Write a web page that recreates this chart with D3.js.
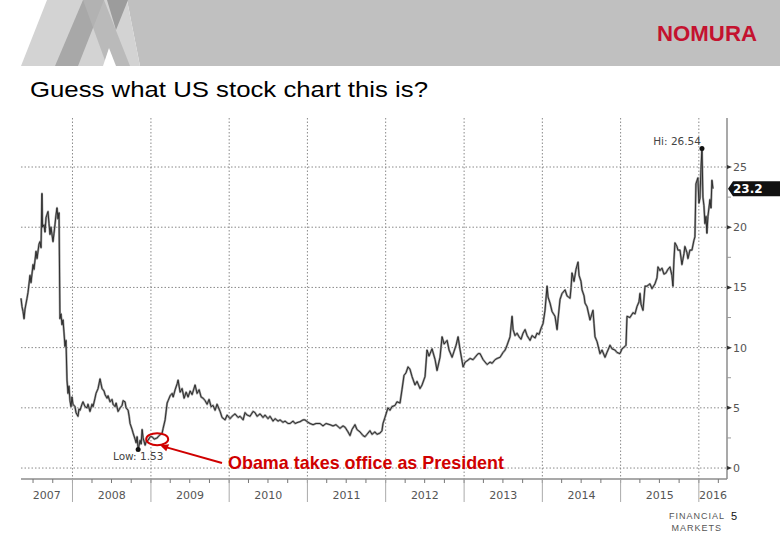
<!DOCTYPE html>
<meta charset="utf-8">
<title>Guess what US stock chart this is?</title>
<style>
body { margin:0; background:#fff; }
svg { display:block; font-family:"DejaVu Sans", Verdana, sans-serif; }
.grid line { stroke:#8a8a8a; stroke-width:1; stroke-dasharray:1.5,2; }
.ylab { font-size:11px; fill:#555; }
.xlab { font-size:11px; fill:#555; text-anchor:middle; }
</style>
<body>
<div id="container"></div>
<script src="https://d3js.org/d3.v7.min.js"></script>
<script>
var width = 780, height = 540;

// trade dates as decimal years
var dates = [
  2007.342,2007.355,2007.368,2007.381,2007.393,2007.419,2007.432,2007.457,2007.470,2007.496,
  2007.508,2007.534,2007.547,2007.572,2007.585,2007.598,2007.610,2007.617,2007.636,2007.649,
  2007.662,2007.687,2007.700,2007.713,2007.725,2007.751,2007.764,2007.776,2007.789,2007.802,
  2007.815,2007.828,2007.840,2007.853,2007.866,2007.879,2007.891,2007.904,2007.917,2007.930,
  2007.943,2007.955,2007.968,2007.981,2007.994,2008.006,2008.032,2008.045,2008.070,2008.083,
  2008.096,2008.121,2008.134,2008.160,2008.185,2008.198,2008.223,2008.249,2008.262,2008.287,
  2008.300,2008.326,2008.351,2008.364,2008.377,2008.402,2008.415,2008.441,2008.453,2008.479,
  2008.504,2008.517,2008.543,2008.556,2008.581,2008.607,2008.632,2008.645,2008.670,2008.683,
  2008.709,2008.722,2008.734,2008.760,2008.773,2008.798,2008.811,2008.824,2008.837,2008.849,
  2008.862,2008.875,2008.888,2008.900,2008.926,2008.939,2008.964,2008.990,2009.015,2009.041,
  2009.079,2009.105,2009.143,2009.156,2009.181,2009.207,2009.220,2009.245,2009.271,2009.284,
  2009.309,2009.335,2009.347,2009.360,2009.373,2009.398,2009.424,2009.450,2009.475,2009.501,
  2009.526,2009.564,2009.590,2009.616,2009.641,2009.667,2009.692,2009.718,2009.743,2009.769,
  2009.794,2009.820,2009.845,2009.884,2009.909,2009.948,2009.973,2010.011,2010.037,2010.075,
  2010.114,2010.139,2010.178,2010.203,2010.229,2010.267,2010.305,2010.331,2010.356,2010.395,
  2010.433,2010.458,2010.497,2010.522,2010.561,2010.586,2010.625,2010.650,2010.688,2010.714,
  2010.752,2010.778,2010.816,2010.842,2010.880,2010.905,2010.944,2010.969,2011.008,2011.033,
  2011.072,2011.110,2011.161,2011.199,2011.238,2011.289,2011.327,2011.365,2011.416,2011.455,
  2011.480,2011.519,2011.544,2011.570,2011.608,2011.633,2011.672,2011.710,2011.736,2011.761,
  2011.799,2011.825,2011.863,2011.889,2011.927,2011.953,2011.966,2011.991,2012.029,2012.055,
  2012.080,2012.119,2012.144,2012.183,2012.208,2012.234,2012.259,2012.285,2012.310,2012.336,
  2012.374,2012.400,2012.438,2012.464,2012.502,2012.527,2012.553,2012.591,2012.630,2012.655,
  2012.693,2012.719,2012.745,2012.783,2012.808,2012.847,2012.872,2012.898,2012.923,2012.949,
  2012.987,2013.013,2013.038,2013.077,2013.115,2013.153,2013.179,2013.204,2013.243,2013.268,
  2013.294,2013.332,2013.358,2013.396,2013.421,2013.460,2013.498,2013.524,2013.549,2013.587,
  2013.613,2013.626,2013.651,2013.677,2013.702,2013.728,2013.753,2013.779,2013.805,2013.843,
  2013.868,2013.907,2013.932,2013.958,2013.983,2014.009,2014.034,2014.060,2014.073,2014.098,
  2014.124,2014.162,2014.188,2014.201,2014.226,2014.252,2014.290,2014.315,2014.354,2014.367,
  2014.379,2014.405,2014.430,2014.456,2014.469,2014.494,2014.507,2014.533,2014.545,2014.571,
  2014.609,2014.647,2014.660,2014.673,2014.699,2014.737,2014.762,2014.801,2014.826,2014.865,
  2014.890,2014.928,2014.954,2014.992,2015.018,2015.056,2015.069,2015.082,2015.120,2015.158,
  2015.184,2015.209,2015.235,2015.248,2015.261,2015.286,2015.312,2015.337,2015.375,2015.401,
  2015.439,2015.465,2015.478,2015.503,2015.529,2015.554,2015.580,2015.605,2015.631,2015.656,
  2015.669,2015.682,2015.695,2015.720,2015.733,2015.759,2015.784,2015.810,2015.822,2015.848,
  2015.861,2015.886,2015.912,2015.937,2015.950,2015.963,2015.988,2016.001,2016.014,2016.027,
  2016.040,2016.052,2016.065,2016.078,2016.091,2016.103,2016.116,2016.142,2016.155,2016.167,
  2016.180
];

var prices = [
  14.1,13.4,13.0,12.4,13.2,14.1,14.6,16.0,15.4,16.9,
  16.5,18.0,17.4,18.6,18.8,18.3,22.8,20.0,20.2,19.6,
  20.8,21.3,20.3,19.4,20.0,18.8,19.5,20.2,21.0,21.6,
  20.7,21.2,12.4,12.8,11.9,12.3,11.3,10.1,10.6,7.3,
  6.2,6.8,5.6,5.1,5.9,5.3,5.1,4.6,4.3,4.9,
  4.8,5.3,5.5,5.1,5.0,5.3,4.7,5.3,5.1,5.8,
  6.2,6.6,7.4,7.0,6.6,6.4,6.1,5.8,6.0,5.5,
  5.7,5.3,5.1,5.4,4.7,5.0,5.2,5.6,5.5,5.0,
  4.8,4.3,3.7,3.2,2.9,2.4,2.1,2.6,1.53,1.9,
  2.3,2.0,3.2,2.5,1.9,2.2,2.3,2.6,2.6,2.4,
  2.5,2.7,2.9,3.3,4.0,5.4,5.6,6.0,6.2,5.9,
  6.5,7.0,7.3,6.8,6.3,6.6,5.8,6.3,5.9,6.4,
  6.1,6.9,6.2,6.5,5.9,5.8,5.6,5.3,5.7,5.1,
  5.2,4.8,5.3,4.7,4.2,4.0,4.4,4.1,4.3,4.5,
  4.2,4.3,4.0,4.6,4.4,4.3,4.7,4.6,4.3,4.5,
  4.2,4.4,4.1,4.3,3.9,4.1,3.9,4.0,3.8,3.9,
  3.7,3.7,3.9,3.7,3.8,3.85,4.0,4.0,3.8,3.7,
  3.6,3.7,3.7,3.5,3.7,3.6,3.5,3.6,3.3,3.5,
  3.4,3.0,2.7,3.2,3.6,3.2,3.0,2.7,2.6,2.8,
  3.1,2.8,3.0,2.8,2.9,3.1,3.7,4.2,5.0,4.8,
  5.1,5.2,5.5,5.4,6.5,7.7,7.9,8.4,8.2,7.6,
  6.9,7.2,6.6,6.9,7.6,9.8,9.3,9.9,9.0,8.1,
  9.2,10.9,10.3,10.6,9.8,9.2,9.7,10.2,10.9,9.8,
  8.4,8.8,8.9,9.1,9.0,9.3,9.5,9.5,9.0,8.8,
  8.6,8.8,8.7,9.0,9.1,9.2,9.6,9.8,10.2,10.9,
  12.6,11.5,11.0,11.2,10.9,10.7,11.2,11.5,11.0,10.6,
  11.0,10.8,11.2,11.1,11.6,12.0,13.1,15.1,14.2,13.7,
  13.0,12.6,11.5,12.4,14.0,14.5,14.8,14.3,14.1,15.0,
  16.2,15.5,16.5,17.1,16.0,15.5,14.8,14.3,13.7,13.4,
  12.3,13.1,12.0,10.9,10.5,9.5,9.8,9.2,9.6,10.2,
  9.9,9.8,9.6,9.5,9.9,10.1,10.2,12.6,12.5,12.9,
  12.8,13.4,13.8,14.5,13.6,13.1,15.1,15.1,15.3,14.9,
  15.3,15.8,16.7,16.4,16.6,16.1,16.2,16.5,16.7,16.0,
  15.1,17.3,18.7,18.4,18.1,18.1,16.9,17.8,18.4,17.9,
  17.4,18.1,18.1,18.9,19.2,23.6,24.1,22.0,22.4,24.8,
  26.54,22.5,21.8,20.3,20.9,19.5,20.9,22.3,21.6,23.9,
  23.2
];

var yTicks = [0, 5, 10, 15, 20, 25];
var yMinor = [2.5, 7.5, 12.5, 17.5, 22.5];
var years = [2007, 2008, 2009, 2010, 2011, 2012, 2013, 2014, 2015, 2016];
var hiValue = 26.54, lowValue = 1.53, lastValue = 23.2;

function toDate(y) {
  var yr = Math.floor(y);
  var a = new Date(yr, 0, 1), b = new Date(yr + 1, 0, 1);
  return new Date(+a + (y - yr) * (b - a));
}

var data = dates.map(function(d, i) { return {date: toDate(d), value: prices[i]}; });

// plot box (note: "top" is reserved on window, so use other names)
var pLeft = 21, pRight = 727, pTop = 118, pBottom = 479;

var x = d3.scaleTime()
    .domain([toDate(2007.342), toDate(2016.359)])
    .range([pLeft, pRight]);

var y = d3.scaleLinear()
    .domain([-0.91, 29.07])
    .range([pBottom, pTop]);

var svg = d3.select("#container").append("svg")
    .attr("width", width)
    .attr("height", height);

// header band
var head = svg.append("g");
head.append("polygon").attr("points", "127,0 780,0 780,66 140,66").attr("fill", "#c0c0c0");
head.append("polygon").attr("points", "21,66 47,0 127,0 140,66").attr("fill", "#d3d3d3");
head.append("polygon").attr("points", "55,66 78,66 104,0 83,0").attr("fill", "#a8a8a8");
head.append("polygon").attr("points", "83,0 104,0 130,66 107,66").attr("fill", "#b4b4b4").attr("opacity", 0.8);
head.append("polygon").attr("points", "107,0 128,0 116,30").attr("fill", "#9c9c9c");
head.append("polygon").attr("points", "103,66 116,66 109,48").attr("fill", "#ffffff");

head.append("text")
    .attr("x", 657).attr("y", 41)
    .attr("textLength", 100)
    .attr("lengthAdjust", "spacingAndGlyphs")
    .style("font-family", "'Liberation Sans', Arial, sans-serif")
    .style("font-weight", "bold")
    .style("font-size", "22px")
    .style("fill", "#c4122f")
    .text("NOMURA");

svg.append("text")
    .attr("x", 30).attr("y", 97)
    .attr("textLength", 398)
    .attr("lengthAdjust", "spacingAndGlyphs")
    .style("font-family", "'Liberation Sans', Arial, sans-serif")
    .style("font-size", "22px")
    .style("fill", "#000")
    .text("Guess what US stock chart this is?");

// grid
var grid = svg.append("g").attr("class", "grid");
grid.selectAll(".h").data(yTicks).enter().append("line")
    .attr("x1", pLeft).attr("x2", pRight)
    .attr("y1", function(d) { return y(d); })
    .attr("y2", function(d) { return y(d); });
grid.selectAll(".v").data(x.ticks(d3.timeYear)).enter().append("line")
    .attr("x1", function(d) { return x(d); })
    .attr("x2", function(d) { return x(d); })
    .attr("y1", pTop).attr("y2", pBottom);

// y axis on the right
svg.append("line")
    .attr("x1", pRight).attr("x2", pRight).attr("y1", pTop).attr("y2", pBottom)
    .attr("stroke", "#8c8c8c").attr("stroke-width", 1.5);
svg.selectAll(".ytick").data(yTicks).enter().append("path")
    .attr("d", function(d) { return "M" + pRight + "," + (y(d) - 2) + "l5,2l-5,2z"; })
    .attr("fill", "#333");
svg.selectAll(".yminor").data(yMinor).enter().append("line")
    .attr("x1", pRight).attr("x2", pRight + 4)
    .attr("y1", function(d) { return y(d); })
    .attr("y2", function(d) { return y(d); })
    .attr("stroke", "#999");
svg.selectAll(".ylab").data(yTicks).enter().append("text")
    .attr("class", "ylab")
    .attr("x", 733)
    .attr("y", function(d) { return y(d) + 4; })
    .text(function(d) { return d; });

// x axis
svg.append("line")
    .attr("x1", pLeft).attr("x2", pRight).attr("y1", pBottom).attr("y2", pBottom)
    .attr("stroke", "#8c8c8c").attr("stroke-width", 1.5);
svg.selectAll(".qtick").data(x.ticks(d3.timeMonth.every(3))).enter().append("line")
    .attr("x1", function(d) { return x(d); })
    .attr("x2", function(d) { return x(d); })
    .attr("y1", pBottom).attr("y2", pBottom + 4)
    .attr("stroke", "#777");
svg.selectAll(".ysep").data(x.ticks(d3.timeYear)).enter().append("line")
    .attr("x1", function(d) { return x(d); })
    .attr("x2", function(d) { return x(d); })
    .attr("y1", pBottom).attr("y2", 502)
    .attr("stroke", "#aaa");
svg.selectAll(".xlab").data(years).enter().append("text")
    .attr("class", "xlab")
    .attr("x", function(d) {
      var a = Math.max(x(new Date(d, 0, 1)), pLeft);
      var b = Math.min(x(new Date(d + 1, 0, 1)), pRight);
      return (a + b) / 2;
    })
    .attr("y", 499)
    .text(function(d) { return d; });

// price line: grey band under a thin dark line, like the bar chart it copies
var line = d3.line()
    .x(function(d) { return x(d.date); })
    .y(function(d) { return y(d.value); });

svg.append("path").datum(data)
    .attr("fill", "none").attr("stroke", "#9a9a9a")
    .attr("stroke-width", 2.2).attr("stroke-linejoin", "round")
    .attr("d", line);
svg.append("path").datum(data)
    .attr("fill", "none").attr("stroke", "#222")
    .attr("stroke-width", 0.9)
    .attr("d", line);

// hi / low markers
var hi = data[prices.indexOf(hiValue)], lo = data[prices.indexOf(lowValue)];
svg.append("circle").attr("cx", x(hi.date)).attr("cy", y(hi.value)).attr("r", 2.5).attr("fill", "#111");
svg.append("text").attr("x", x(hi.date) - 1).attr("y", y(hi.value) - 3)
    .attr("text-anchor", "end").style("font-size", "10.5px").style("fill", "#444")
    .text("Hi: " + hiValue);
svg.append("circle").attr("cx", x(lo.date)).attr("cy", y(lo.value)).attr("r", 2.5).attr("fill", "#111");
svg.append("text").attr("x", x(lo.date)).attr("y", y(lo.value) + 10)
    .attr("text-anchor", "middle").style("font-size", "10.5px").style("fill", "#444")
    .text("Low: " + lowValue);

// last price tag
var ly = y(lastValue);
svg.append("path")
    .attr("d", "M" + (pRight + 1) + "," + ly + "l5,-7.5h" + (780 - pRight - 6) + "v15h" + (-(780 - pRight - 6)) + "z")
    .attr("fill", "#111");
svg.append("text").attr("x", 733).attr("y", ly + 4.5)
    .style("font-size", "12px").style("font-weight", "bold").style("fill", "#fff")
    .text(lastValue);

// annotation
var ox = x(toDate(2009.08)), oy = y(2.4);
svg.append("ellipse").attr("cx", ox).attr("cy", oy).attr("rx", 11).attr("ry", 6)
    .attr("fill", "none").attr("stroke", "#d00000").attr("stroke-width", 2);
svg.append("line").attr("x1", ox + 5).attr("y1", oy + 7).attr("x2", 222).attr("y2", 463)
    .attr("stroke", "#d00000").attr("stroke-width", 2);
svg.append("path").attr("d", "M" + (ox + 3) + "," + (oy + 6) + "l9,-1l-3,7z").attr("fill", "#d00000");
svg.append("text")
    .attr("x", 228).attr("y", 469)
    .attr("textLength", 276)
    .attr("lengthAdjust", "spacingAndGlyphs")
    .style("font-family", "'Liberation Sans', Arial, sans-serif")
    .style("font-weight", "bold").style("font-size", "19px")
    .style("fill", "#d00000")
    .text("Obama takes office as President");

// footer
var foot = svg.append("g")
    .style("font-family", "'Liberation Sans', Arial, sans-serif")
    .style("font-size", "9px").style("fill", "#555").style("letter-spacing", "1px");
foot.append("text").attr("x", 725).attr("y", 519).attr("text-anchor", "end").text("FINANCIAL");
foot.append("text").attr("x", 722).attr("y", 531).attr("text-anchor", "end").text("MARKETS");
svg.append("text").attr("x", 731).attr("y", 520)
    .style("font-family", "'Liberation Sans', Arial, sans-serif")
    .style("font-size", "11px").style("fill", "#111").text("5");
</script>
</body>
